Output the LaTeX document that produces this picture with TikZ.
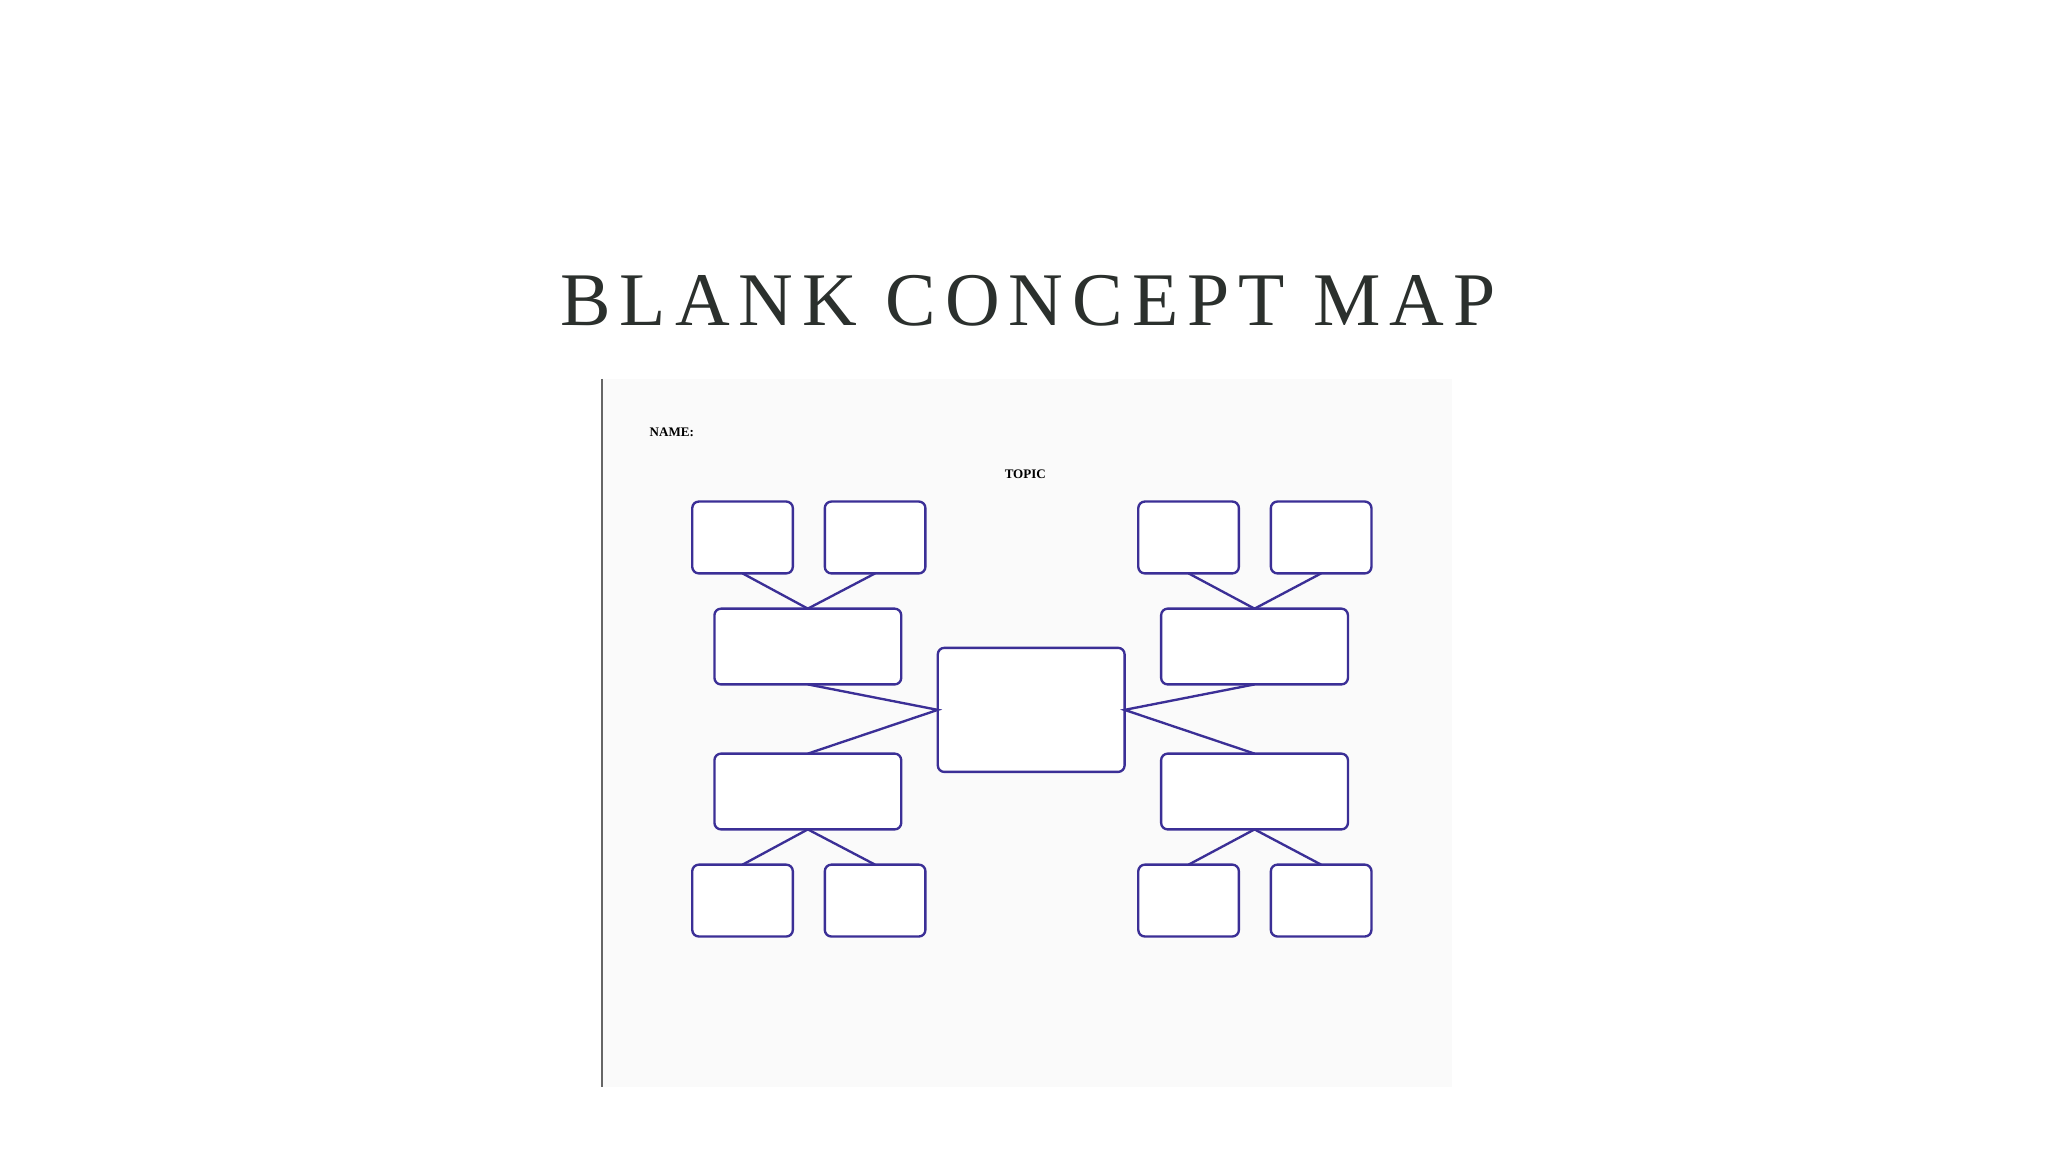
\documentclass[tikz,border=0pt]{standalone}
\usepackage{fontspec}
\setmainfont{Liberation Serif}
\newfontfamily\titlefont[LetterSpace=12]{Liberation Serif}
\definecolor{ink}{HTML}{3B2F96}
\definecolor{titlec}{HTML}{2B302D}
\begin{document}
\begin{tikzpicture}[x=0.5pt,y=-0.5pt,
  bx/.style={draw=ink,line width=0.9pt,rounded corners=2.5pt,inner sep=0pt,outer sep=0pt,fill=white},
  sm/.style={bx,minimum width=38.5pt,minimum height=27.5pt},
  md/.style={bx,minimum width=71.5pt,minimum height=29pt},
  cn/.style={bx,minimum width=71.5pt,minimum height=47.5pt},
  ln/.style={draw=ink,line width=0.9pt}]
\useasboundingbox (0,0) rectangle (1568,882);
\fill[white] (0,0) rectangle (1568,882);
\fill[black!2] (462,290) rectangle (1112,832);
\draw[gray!80!black,line width=0.8pt] (461,290) -- (461,832);
\node[text=titlec,font=\titlefont\fontsize{29}{30}\selectfont] (title) at (787,230) {BLANK CONCEPT MAP};
\node[anchor=west,font=\bfseries\fontsize{5}{6}\selectfont,inner sep=0pt] (name) at (497,331) {NAME:};
\node[font=\bfseries\fontsize{5}{6}\selectfont,inner sep=0pt] (topic) at (785,363) {TOPIC};
% center
\node[cn] (c) at (789.5,543.5) {};
% mid boxes
\node[md] (lu) at (618.5,495) {};
\node[md] (ll) at (618.5,606) {};
\node[md] (ru) at (960.5,495) {};
\node[md] (rl) at (960.5,606) {};
% small boxes
\node[sm] (lu1) at (568.5,411.5) {};
\node[sm] (lu2) at (670,411.5) {};
\node[sm] (ru1) at (910,411.5) {};
\node[sm] (ru2) at (1011.5,411.5) {};
\node[sm] (ll1) at (568.5,689.5) {};
\node[sm] (ll2) at (670,689.5) {};
\node[sm] (rl1) at (910,689.5) {};
\node[sm] (rl2) at (1011.5,689.5) {};
% connectors
\draw[ln] (lu1.south) -- (lu.north) -- (lu2.south);
\draw[ln] (ru1.south) -- (ru.north) -- (ru2.south);
\draw[ln] (ll1.north) -- (ll.south) -- (ll2.north);
\draw[ln] (rl1.north) -- (rl.south) -- (rl2.north);
\draw[ln] (lu.south) -- (c.west) -- (ll.north);
\draw[ln] (ru.south) -- (c.east) -- (rl.north);
\end{tikzpicture}
\end{document}
